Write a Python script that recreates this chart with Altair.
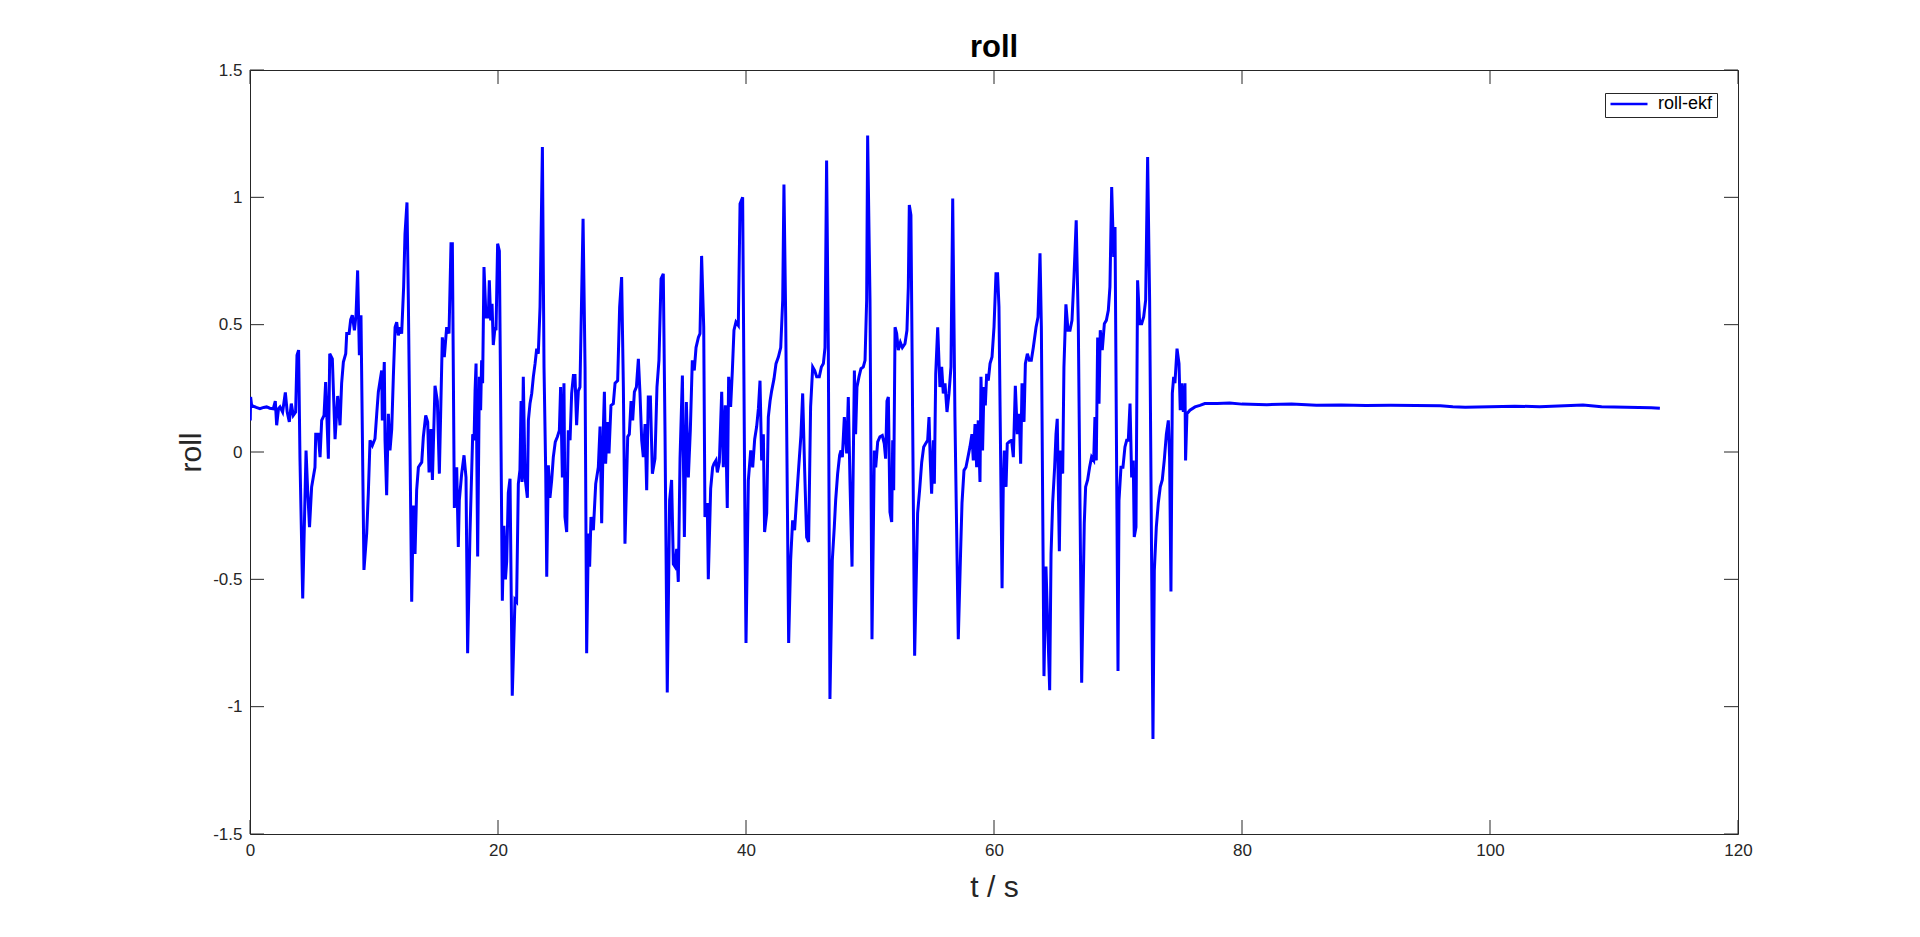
import altair as alt
import pandas as pd

# time (s) and roll values
t_values = [
    0.0, 0.02, 0.05, 0.13, 0.5, 0.8, 1.1, 1.34, 1.6, 1.88, 2.04, 2.15, 2.3, 2.42, 2.63, 2.85, 3.0, 3.17, 3.33, 3.49,
    3.68, 3.79, 3.92, 4.03, 4.25, 4.52, 4.65, 4.8, 4.97, 5.1, 5.24, 5.3, 5.5, 5.65, 5.78, 5.97, 6.1, 6.32, 6.43, 6.64,
    6.86, 7.07, 7.26, 7.39, 7.53, 7.72, 7.8, 7.99, 8.12, 8.25, 8.42, 8.55, 8.68, 8.82, 8.95, 9.19, 9.41, 9.54, 9.68, 9.87,
    10.08, 10.22, 10.35, 10.49, 10.62, 10.67, 10.83, 10.89, 11.02, 11.16, 11.29, 11.43, 11.56, 11.7, 11.83, 11.96, 12.1, 12.23, 12.39, 12.5,
    12.66, 12.77, 13.04, 13.17, 13.31, 13.44, 13.58, 13.85, 13.98, 14.17, 14.33, 14.44, 14.6, 14.71, 14.92, 15.11, 15.27, 15.51, 15.67, 15.86,
    16.05, 16.21, 16.32, 16.48, 16.67, 16.8, 16.88, 17.07, 17.26, 17.42, 17.55, 17.74, 17.96, 18.07, 18.15, 18.23, 18.36, 18.5, 18.6, 18.68,
    18.76, 18.87, 19.03, 19.22, 19.3, 19.41, 19.52, 19.62, 19.76, 19.84, 19.97, 20.11, 20.35, 20.48, 20.6, 20.7, 20.83, 20.97, 21.15, 21.37,
    21.5, 21.64, 21.77, 21.86, 21.94, 22.04, 22.18, 22.37, 22.45, 22.58, 22.72, 22.85, 22.99, 23.12, 23.25, 23.39, 23.58, 23.71, 23.85, 23.93,
    24.06, 24.19, 24.33, 24.46, 24.62, 24.79, 24.95, 25.05, 25.19, 25.32, 25.4, 25.54, 25.67, 25.81, 25.94, 26.08, 26.21, 26.34, 26.48, 26.61,
    26.86, 27.02, 27.15, 27.29, 27.39, 27.5, 27.69, 27.88, 28.09, 28.23, 28.36, 28.5, 28.58, 28.68, 28.82, 28.95, 29.11, 29.3, 29.44, 29.65,
    29.81, 29.97, 30.11, 30.24, 30.46, 30.59, 30.73, 30.86, 31.0, 31.16, 31.32, 31.45, 31.59, 31.72, 31.86, 31.99, 32.12, 32.29, 32.45, 32.66,
    32.82, 32.98, 33.15, 33.33, 33.47, 33.65, 33.84, 34.0, 34.14, 34.27, 34.41, 34.54, 34.68, 34.87, 35.03, 35.19, 35.35, 35.51, 35.67, 35.83,
    35.97, 36.16, 36.29, 36.42, 36.59, 36.69, 36.88, 36.96, 37.15, 37.31, 37.42, 37.58, 37.69, 37.85, 38.04, 38.17, 38.33, 38.49, 38.6, 38.76,
    38.9, 39.03, 39.19, 39.38, 39.52, 39.73, 39.92, 40.0, 40.19, 40.38, 40.54, 40.7, 40.86, 41.0, 41.13, 41.26, 41.4, 41.5, 41.67, 41.8,
    41.94, 42.07, 42.26, 42.42, 42.61, 42.8, 42.96, 43.06, 43.2, 43.44, 43.6, 43.76, 43.92, 44.08, 44.25, 44.43, 44.57, 44.73, 44.89, 45.05,
    45.21, 45.38, 45.54, 45.7, 45.91, 46.08, 46.24, 46.37, 46.5, 46.64, 46.77, 46.96, 47.12, 47.23, 47.39, 47.55, 47.66, 47.77, 47.93, 48.12,
    48.25, 48.39, 48.55, 48.74, 48.84, 48.95, 49.11, 49.27, 49.46, 49.6, 49.73, 49.81, 50.0, 50.16, 50.35, 50.46, 50.62, 50.8, 50.99, 51.15,
    51.26, 51.37, 51.48, 51.61, 51.75, 51.83, 51.91, 52.02, 52.15, 52.28, 52.45, 52.61, 52.82, 52.98, 53.09, 53.17, 53.3, 53.6, 53.84, 54.0,
    54.17, 54.33, 54.49, 54.65, 54.76, 54.86, 54.97, 55.11, 55.19, 55.3, 55.46, 55.64, 55.78, 55.91, 56.05, 56.21, 56.37, 56.53, 56.67, 56.85,
    57.12, 57.31, 57.42, 57.58, 57.74, 57.9, 58.06, 58.22, 58.33, 58.47, 58.6, 58.73, 58.87, 58.95, 59.08, 59.19, 59.3, 59.41, 59.54, 59.68,
    59.84, 60.0, 60.16, 60.29, 60.4, 60.65, 60.75, 60.83, 60.97, 61.07, 61.23, 61.42, 61.56, 61.72, 61.88, 62.04, 62.15, 62.26, 62.42, 62.53,
    62.69, 62.85, 63.01, 63.17, 63.39, 63.55, 63.71, 63.82, 64.03, 64.19, 64.49, 64.6, 64.73, 64.89, 65.0, 65.1, 65.27, 65.38, 65.54, 65.64,
    65.8, 65.97, 66.13, 66.29, 66.45, 66.63, 66.8, 67.07, 67.28, 67.39, 67.55, 67.71, 67.87, 68.04, 68.14, 68.25, 68.36, 68.47, 68.57, 68.73,
    68.9, 69.06, 69.22, 69.35, 69.49, 69.65, 69.76, 70.0, 70.08, 70.24, 70.4, 70.56, 70.7, 70.83, 70.97, 71.1, 71.23, 71.31, 71.45, 71.58,
    71.75, 71.91, 72.07, 72.23, 72.39, 72.55, 72.82, 72.93, 73.09, 73.25, 73.41, 73.57, 73.73, 73.9, 74.06, 74.16, 74.27, 74.38, 74.49, 74.59,
    74.76, 74.92, 75.02, 75.13, 75.27, 75.4, 75.45, 75.56, 75.8, 76.21, 76.61, 77.0, 78.0, 79.0, 80.0, 82.0, 84.0, 86.0, 88.0, 90.0,
    92.0, 94.0, 96.0, 97.0, 98.0, 100.0, 102.0, 104.0, 106.0, 107.5, 109.0, 111.0, 113.0, 113.7,
]

roll_values = [
    0.21, 0.124, 0.216, 0.183, 0.175, 0.17, 0.175, 0.177, 0.172, 0.17, 0.2, 0.105, 0.17, 0.177, 0.157, 0.234, 0.157, 0.118, 0.19, 0.144,
    0.157, 0.38, 0.4, -0.026, -0.575, 0.006, -0.15, -0.295, -0.137, -0.1, -0.06, 0.07, 0.07, -0.02, 0.124, 0.144, 0.275, -0.026, 0.386, 0.366,
    0.05, 0.22, 0.105, 0.27, 0.353, 0.386, 0.465, 0.465, 0.52, 0.537, 0.478, 0.537, 0.713, 0.38, 0.537, -0.463, -0.32, -0.164, 0.046, 0.026,
    0.052, 0.15, 0.236, 0.28, 0.32, 0.124, 0.353, 0.046, -0.17, 0.15, 0.006, 0.09, 0.295, 0.49, 0.51, 0.458, 0.49, 0.465, 0.648, 0.857,
    0.98, 0.596, -0.588, -0.21, -0.4, -0.15, -0.06, -0.04, 0.06, 0.144, 0.118, -0.08, 0.09, -0.11, 0.26, 0.2, -0.085, 0.45, 0.373, 0.49,
    0.465, 0.818, 0.818, -0.22, -0.06, -0.373, -0.19, -0.085, -0.013, -0.1, -0.79, -0.32, 0.07, 0.046, 0.24, 0.347, -0.41, 0.295, 0.164, 0.36,
    0.27, 0.726, 0.53, 0.53, 0.674, 0.517, 0.582, 0.42, 0.49, 0.478, 0.818, 0.79, -0.584, -0.29, -0.5, -0.43, -0.16, -0.105, -0.957, -0.58,
    -0.588, -0.125, -0.07, 0.2, -0.118, 0.295, -0.1, -0.18, 0.124, 0.19, 0.23, 0.295, 0.347, 0.406, 0.386, 0.57, 1.198, 0.334, -0.085, -0.49,
    -0.052, -0.18, -0.11, -0.02, 0.04, 0.06, 0.085, 0.255, -0.1, 0.27, -0.255, -0.314, 0.085, 0.046, 0.23, 0.3, 0.3, 0.105, 0.24, 0.255,
    0.916, 0.334, -0.79, -0.32, -0.45, -0.255, -0.307, -0.125, -0.06, 0.1, -0.28, 0.1, 0.236, -0.046, 0.118, -0.006, 0.183, 0.19, 0.27, 0.28,
    0.57, 0.687, 0.255, -0.36, 0.06, 0.07, 0.2, 0.124, 0.236, 0.255, 0.366, 0.23, 0.046, -0.02, 0.11, -0.15, 0.216, 0.216, -0.085, -0.026,
    0.255, 0.36, 0.68, 0.7, 0.07, -0.944, -0.19, -0.11, -0.44, -0.45, -0.38, -0.51, -0.026, 0.3, -0.334, 0.196, -0.1, 0.085, 0.36, 0.32,
    0.41, 0.45, 0.465, 0.77, 0.49, -0.255, -0.2, -0.5, -0.144, -0.06, -0.046, -0.033, -0.08, -0.04, 0.236, -0.06, 0.183, -0.22, 0.295, 0.177,
    0.32, 0.478, 0.51, 0.497, 0.975, 1.0, -0.32, -0.75, -0.11, 0.006, -0.06, 0.05, 0.1, 0.17, 0.28, -0.033, 0.07, -0.314, -0.24, 0.137,
    0.2, 0.24, 0.288, 0.347, 0.373, 0.41, 0.596, 1.05, 0.53, -0.75, -0.425, -0.268, -0.307, -0.183, -0.06, 0.065, 0.23, -0.072, -0.334, -0.353,
    0.177, 0.334, 0.32, 0.295, 0.295, 0.334, 0.347, 0.41, 1.145, 0.4, -0.97, -0.425, -0.295, -0.19, -0.085, -0.013, 0.006, -0.02, 0.137, -0.006,
    0.216, -0.125, -0.45, 0.32, 0.07, 0.255, 0.295, 0.327, 0.334, 0.36, 0.596, 1.243, 0.596, -0.735, 0.006, -0.06, 0.04, 0.06, 0.065, 0.033,
    -0.026, 0.2, 0.216, -0.236, -0.275, 0.046, -0.15, 0.49, 0.465, 0.4, 0.43, 0.41, 0.425, 0.478, 0.648, 0.97, 0.93, -0.8, -0.24, -0.15,
    -0.04, 0.02, 0.033, 0.046, 0.137, -0.033, -0.164, 0.046, -0.125, 0.307, 0.49, 0.255, 0.334, 0.23, 0.27, 0.157, 0.23, 0.334, 0.995, 0.137,
    -0.735, -0.386, -0.2, -0.072, -0.06, -0.02, 0.02, 0.07, -0.033, 0.11, -0.06, 0.124, -0.118, 0.295, 0.006, 0.255, 0.183, 0.307, 0.28, 0.347,
    0.373, 0.49, 0.7, 0.7, 0.57, -0.535, -0.125, 0.006, -0.137, 0.033, 0.04, 0.046, -0.02, 0.26, 0.07, 0.15, -0.046, 0.27, 0.118, 0.347,
    0.386, 0.36, 0.36, 0.41, 0.49, 0.53, 0.78, 0.49, -0.88, -0.45, -0.935, -0.4, -0.2, -0.06, 0.07, 0.13, -0.39, 0.006, -0.085, 0.334,
    0.58, 0.478, 0.478, 0.517, 0.687, 0.91, 0.5, -0.906, -0.28, -0.137, -0.11, -0.06, -0.02, -0.033, 0.137, -0.033, 0.45, 0.19, 0.478, 0.4,
    0.504, 0.517, 0.556, 0.648, 1.04, 0.766, 0.883, -0.86, -0.19, -0.06, -0.06, 0.02, 0.046, 0.046, 0.19, -0.1, -0.033, -0.334, -0.295, 0.674,
    0.504, 0.504, 0.53, 0.596, 1.158, 0.596, -1.127, -0.465, -0.295, -0.2, -0.137, -0.11, -0.033, 0.07, 0.124, -0.02, -0.548, 0.23, 0.295, 0.27,
    0.406, 0.347, 0.164, 0.27, 0.157, 0.27, -0.033, 0.15, 0.164, 0.177, 0.183, 0.19, 0.19, 0.192, 0.188, 0.186, 0.188, 0.184, 0.185, 0.183,
    0.184, 0.183, 0.182, 0.178, 0.176, 0.178, 0.18, 0.178, 0.182, 0.185, 0.178, 0.176, 0.174, 0.172,
]

series_name = ["roll-ekf"]
x_ticks = [0, 20, 40, 60, 80, 100, 120]
y_ticks = [-1.5, -1.0, -0.5, 0.0, 0.5, 1.0, 1.5]

W, H = 1488, 764
AX = "#262626"
FONT = "Liberation Sans"

df = pd.DataFrame({"t": t_values, "v": roll_values, "series": series_name[0]})
xt = pd.DataFrame({"t": x_ticks})
yt = pd.DataFrame({"v": y_ticks})

xscale = alt.Scale(domain=[0, 120], nice=False, zero=False)
yscale = alt.Scale(domain=[-1.5, 1.5], nice=False, zero=False)

x_axis = alt.Axis(
    title="t / s", values=x_ticks, tickSize=0, domain=False, grid=False, labelFlush=False,
    labelFontSize=17, labelPadding=8, labelColor=AX, labelFont=FONT,
    titleFontSize=30, titleFontWeight="normal", titleFont=FONT, titleColor=AX,
    titlePadding=14)
y_axis = alt.Axis(
    title="roll", values=y_ticks, tickSize=0, domain=False, grid=False, labelFlush=False,
    labelExpr="'' + datum.value",
    labelFontSize=17, labelPadding=8, labelColor=AX, labelFont=FONT,
    titleFontSize=30, titleFontWeight="normal", titleFont=FONT, titleColor=AX,
    titlePadding=6)

X = alt.X("t:Q", scale=xscale, axis=x_axis, title="t / s")
Y = alt.Y("v:Q", scale=yscale, axis=y_axis, title="roll")

line = alt.Chart(df).mark_line(strokeWidth=3, clip=True).encode(
    x=X,
    y=Y,
    color=alt.Color("series:N", scale=alt.Scale(domain=series_name, range=["#0000ff"]),
                    legend=alt.Legend(title=None, orient="none", legendX=1355, legendY=23,
                                      symbolType="stroke", symbolSize=1369, symbolStrokeWidth=2.5,
                                      clipHeight=14, labelFontSize=18, labelFont=FONT, labelColor="black",
                                      strokeColor=AX, fillColor="white", padding=4, labelOffset=9,
                                      cornerRadius=0)),
)

tick_style = dict(color=AX, strokeWidth=1)
bottom_ticks = alt.Chart(xt).mark_rule(**tick_style).encode(
    x=X, y=alt.value(H), y2=alt.value(H - 14))
top_ticks = alt.Chart(xt).mark_rule(**tick_style).encode(
    x=X, y=alt.value(0), y2=alt.value(14))
left_ticks = alt.Chart(yt).mark_rule(**tick_style).encode(
    y=Y, x=alt.value(0), x2=alt.value(14))
right_ticks = alt.Chart(yt).mark_rule(**tick_style).encode(
    y=Y, x=alt.value(W), x2=alt.value(W - 14))

chart = alt.layer(line, bottom_ticks, top_ticks, left_ticks, right_ticks).properties(
    width=W, height=H,
    title=alt.TitleParams("roll", fontSize=31, fontWeight="bold", font=FONT, color="black",
                          offset=10, dy=13),
    autosize=alt.AutoSizeParams(type="none"),
    padding={"left": 242, "top": 62, "right": 170, "bottom": 90},
    background="white",
).configure_view(stroke=AX, strokeWidth=1)

chart.save("out.html", embed_options={"renderer": "svg", "actions": False})
